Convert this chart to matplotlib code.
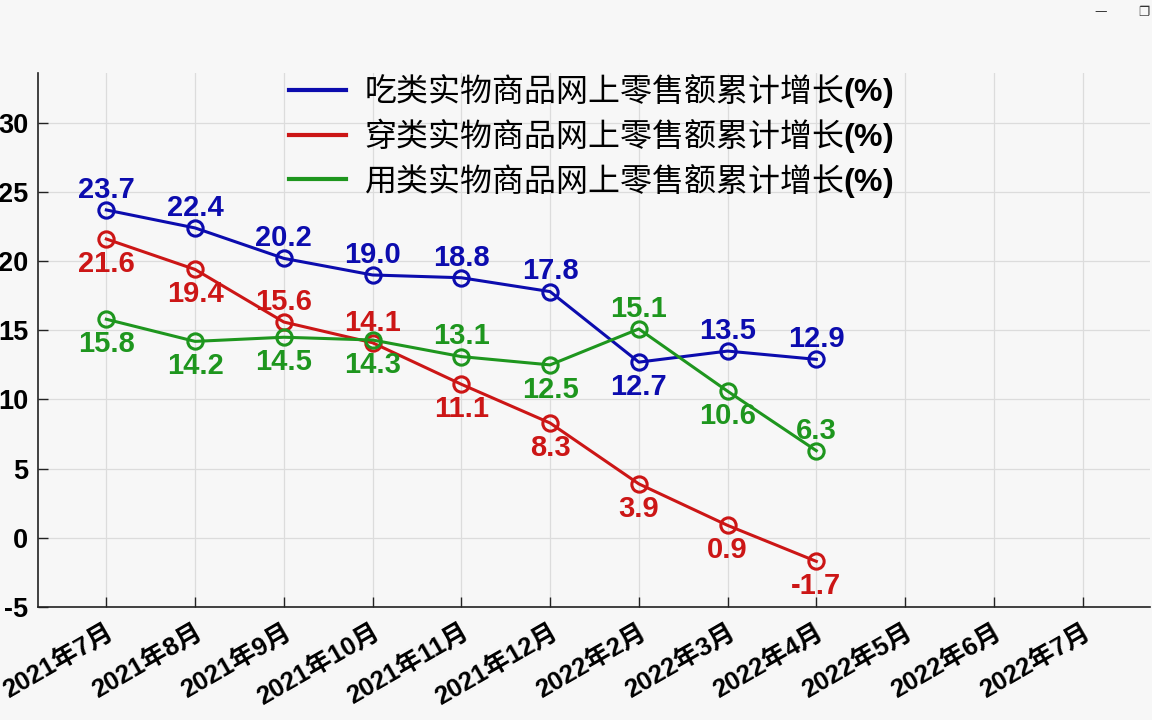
import matplotlib
matplotlib.use('Agg')
import matplotlib.pyplot as plt
import matplotlib.transforms as mtransforms
import numpy as np

plt.rcParams['font.family'] = ['Liberation Sans', 'Noto Sans CJK SC', 'DejaVu Sans']
plt.rcParams['axes.unicode_minus'] = False
plt.rcParams['mathtext.fontset'] = 'custom'
plt.rcParams['mathtext.bf'] = 'Liberation Sans:bold'
plt.rcParams['mathtext.rm'] = 'Liberation Sans'

months = ['2021年7月', '2021年8月', '2021年9月', '2021年10月', '2021年11月', '2021年12月',
          '2022年2月', '2022年3月', '2022年4月', '2022年5月', '2022年6月', '2022年7月']

food = [23.7, 22.4, 20.2, 19.0, 18.8, 17.8, 12.7, 13.5, 12.9]
clothes = [21.6, 19.4, 15.6, 14.1, 11.1, 8.3, 3.9, 0.9, -1.7]
goods = [15.8, 14.2, 14.5, 14.3, 13.1, 12.5, 15.1, 10.6, 6.3]

# +1 label above the point, -1 below
food_side = [1, 1, 1, 1, 1, 1, -1, 1, 1]
clothes_side = [-1, -1, 1, 1, -1, -1, -1, -1, -1]
goods_side = [-1, -1, -1, -1, 1, -1, 1, -1, 1]

legend_names = ['吃类实物商品网上零售额累计增长', '穿类实物商品网上零售额累计增长',
                '用类实物商品网上零售额累计增长']
legend_unit = r'$\mathbf{(\%)}$'

bg = '#f7f7f7'
fig = plt.figure(figsize=(11.52, 7.2), dpi=100, facecolor=bg)
ax = fig.add_axes([38 / 1152, 113 / 720, 1112 / 1152, 534 / 720], facecolor=bg)

series = [(food, food_side, '#0c0cae'), (clothes, clothes_side, '#cc1616'), (goods, goods_side, '#1e961e')]
x = np.arange(len(food))
handles = []
for vals, sides, col in series:
    h, = ax.plot(x, vals, '-', color=col, lw=2.2)
    ax.plot(x, vals, 'o', mfc='none', mec=col, mew=2.2, ms=11)
    handles.append(h)
    for xi, v, s in zip(x, vals, sides):
        ax.annotate(f'{v:.1f}', (xi, v), xytext=(0, 14.5 if s > 0 else -18),
                    textcoords='offset points', ha='center', va='center',
                    color=col, fontsize=21, fontweight='bold')

ax.set_xlim(-0.77, 11.76)
ax.set_ylim(-5, 33.6)
ax.set_yticks(np.arange(-5, 31, 5))
ax.set_xticks(np.arange(len(months)))
ax.set_xticklabels(months, rotation=30, ha='right', va='top', rotation_mode='anchor')
shift = mtransforms.ScaledTranslation(5 / 100, 0, fig.dpi_scale_trans)
for lbl in ax.get_xticklabels():
    lbl.set_fontweight('bold')
    lbl.set_fontsize(18.5)
    lbl.set_transform(lbl.get_transform() + shift)
for lbl in ax.get_yticklabels():
    lbl.set_fontweight('bold')
    lbl.set_fontsize(19.5)

ax.tick_params(direction='in', length=7, width=1, color='#222222', pad=7)
ax.tick_params(axis='x', pad=10)
ax.grid(True, color='#dcdcdc', lw=0.9)
ax.set_axisbelow(True)
for s in ['top', 'right']:
    ax.spines[s].set_visible(False)
for s in ['left', 'bottom']:
    ax.spines[s].set_color('#222222')
    ax.spines[s].set_linewidth(1.2)

leg = ax.legend(handles, [n + legend_unit for n in legend_names], loc='upper left',
                bbox_to_anchor=(260 / 1152, 677 / 720),
                bbox_transform=fig.transFigure, frameon=False, handlelength=1.8, handletextpad=0.55,
                labelspacing=0.2, prop={'family': ['Noto Sans CJK SC', 'DejaVu Sans'], 'size': 23})
for line in leg.get_lines():
    line.set_linewidth(3)

fig.text(1101 / 1152, 708 / 720, '—', fontsize=9, color='#333333', ha='center', va='center',
         family='DejaVu Sans')
fig.text(1144 / 1152, 708 / 720, '❐', fontsize=9, color='#333333', ha='center', va='center',
         family='DejaVu Sans')

fig.savefig('out.png', dpi=100, facecolor=bg)
